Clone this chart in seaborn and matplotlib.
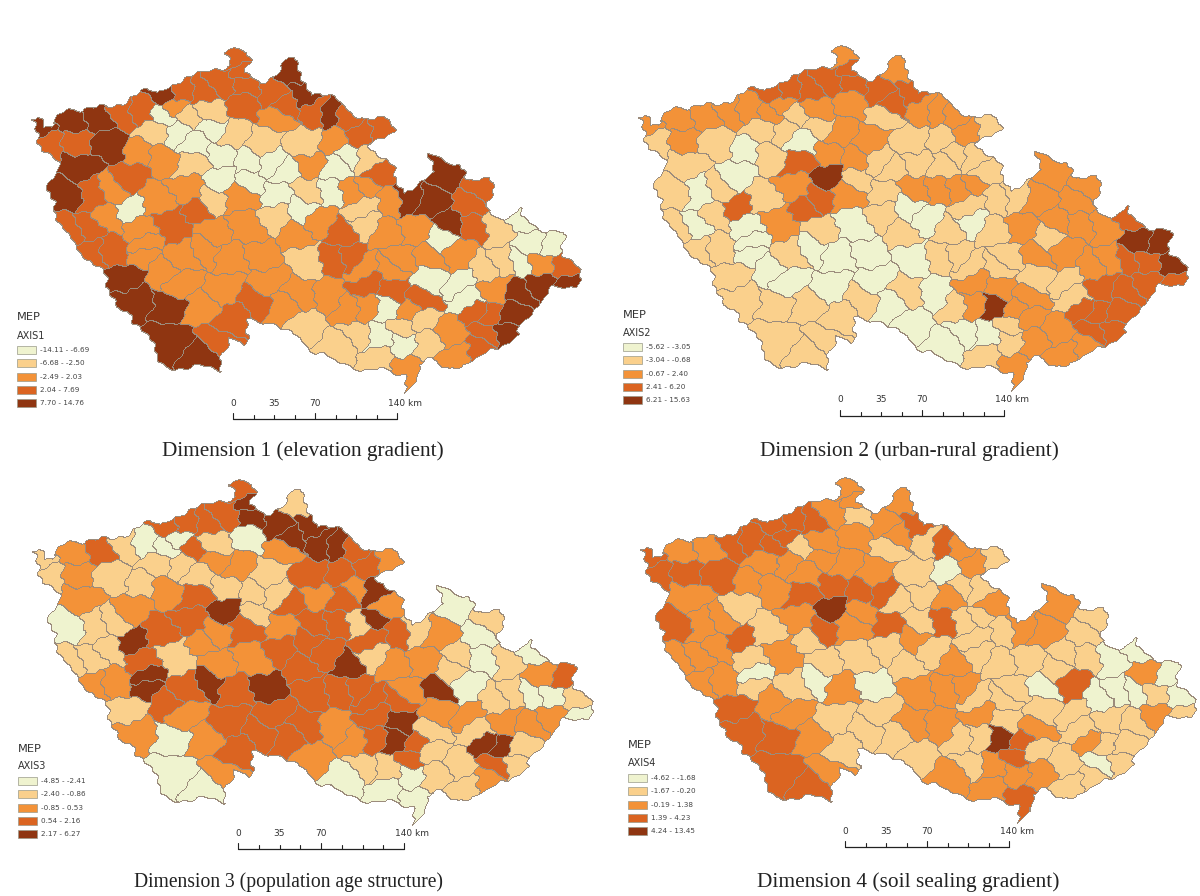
import numpy as np
import seaborn as sns
import matplotlib
matplotlib.use("Agg")
import matplotlib.pyplot as plt
from matplotlib.colors import ListedColormap
from matplotlib.patches import Rectangle
from matplotlib.path import Path

# border of the country
outline_x = [85,105,110,125,150,175,240,290,320,340,375,400,430,500,570,600,580,595,635,650,640,680,730,735,760,785,800,825,870,900,945,980,1005,1022,1000,960,985,1020,1050,1075,1110,1125,1108,1150,1190,1225,1280,1290,1255,1275,1330,1350,1370,1410,1460,1465,1500,1510,1480,1440,1400,1340,1310,1270,1250,1220,1165,1130,1095,1060,1045,1000,950,880,800,755,700,650,635,590,570,540,480,420,370,330,300,280,240,200,160,145,120,150,145,110,100,85]
outline_y = [258,255,290,295,265,240,230,235,220,195,180,190,165,140,110,110,65,52,70,95,130,155,130,90,90,130,190,185,215,225,265,270,265,295,325,345,385,410,480,480,450,430,370,385,410,460,435,470,510,545,570,540,570,600,610,680,710,765,780,770,810,925,945,950,985,1010,1010,985,1010,1080,1030,1020,1020,995,950,910,870,870,950,925,1020,1005,1020,1000,900,840,830,760,700,640,600,550,480,430,400,350,320,290]

# district centres
seed_x = [100,130,195,180,260,285,200,175,240,290,335,340,375,415,310,365,400,425,455,460,420,510,490,545,540,475,520,575,610,635,640,640,700,757,790,745,860,820,900,930,990,880,790,720,680,610,580,
          578,495,490,545,620,640,700,650,740,720,870,805,860,800,910,945,985,910,960,1010,945,1060,
          1160,1120,1180,1215,1255,1225,1295,1350,1380,1440,1400,1470,1485,1405,1350,1310,1265,1350,1330,1310,1270,1240,1210,1290,1170,1245,1190,1265,
          1110,1050,990,1040,880,985,1100,1090,1120,1195,1140,1080,1190,1120,1040,1000,960,1010,1020,1000,965,955,1060,1050,
          880,915,865,945,800,680,770,830,720,780,640,550,450,520,400,230,180,280,360,370,300,370,230,
          330,350,420,480,530,600,590,470,660,600,560,520,440,450,530,780,800,690,740,850,900,930]
seed_y = [285,345,335,270,265,340,405,490,495,490,535,440,240,195,245,365,310,250,225,300,385,340,265,240,295,185,190,150,85,125,220,170,185,125,195,230,250,240,260,310,295,340,340,260,330,320,370,
          442,405,470,510,500,400,400,450,430,490,420,400,480,480,370,380,440,480,470,510,530,500,
          420,520,570,530,480,590,590,570,640,640,695,715,760,760,700,700,720,790,850,905,855,850,800,770,905,955,980,905,
          935,1015,985,940,950,925,875,810,750,770,630,600,670,680,680,610,580,720,775,835,760,830,840,885,
          620,680,680,710,680,680,620,580,560,535,590,600,580,545,510,590,600,560,600,640,660,680,670,
          740,810,725,680,660,690,770,760,810,870,925,840,830,920,975,800,870,750,830,810,840,910]
axis1 = [4,3,3,4,4,4,4,4,3,2,0,3,3,4,3,2,1,0,2,0,2,0,1,1,0,3,3,3,3,3,3,3,3,4,4,3,4,3,3,3,3,2,1,2,1,1,0,
         0,1,2,1,2,0,0,0,0,0,0,2,0,1,0,1,3,2,2,2,1,4,
         4,4,4,3,3,3,1,0,0,0,2,3,4,4,0,1,1,4,4,4,3,3,0,2,2,3,2,3,
         1,2,1,0,1,0,1,3,0,0,0,2,2,2,2,2,1,2,3,0,3,2,2,1,
         3,3,3,2,1,2,2,2,1,0,2,2,3,3,2,3,3,2,2,2,3,2,3,
         4,4,2,2,2,2,2,2,3,3,3,2,4,4,4,2,1,2,2,2,2,1]
axis2 = [2,1,2,2,2,1,1,1,0,1,3,0,2,3,2,0,1,2,2,1,1,0,1,2,1,3,3,3,2,3,2,3,3,2,3,3,2,2,2,2,1,1,1,1,2,2,2,
         4,3,2,3,2,2,1,1,1,1,1,1,2,2,1,1,1,2,2,1,1,1,
         2,2,2,2,2,2,2,3,4,4,3,4,3,3,3,2,2,3,3,3,3,3,1,3,2,2,2,3,
         2,2,1,1,0,0,2,2,1,1,1,2,2,2,1,1,0,1,2,4,2,2,2,1,
         1,1,1,1,0,0,1,0,1,0,0,1,2,3,1,0,1,1,0,0,1,0,1,
         1,1,0,1,0,0,0,0,1,1,1,1,1,1,1,1,0,0,0,0,1,0]
axis3 = [1,1,2,2,3,1,2,0,1,1,4,2,0,3,1,1,1,0,0,1,2,1,3,1,2,3,3,3,3,4,0,4,4,1,4,4,4,4,3,3,2,3,3,2,1,2,1,
         4,3,3,2,3,1,1,1,3,2,3,2,3,3,2,4,2,1,4,3,3,1,
         0,2,1,0,1,0,1,0,2,3,0,1,0,2,0,1,1,2,1,1,4,4,1,2,1,2,1,3,
         1,0,0,0,0,1,1,1,2,2,1,2,0,4,2,2,1,3,4,4,3,3,3,3,
         4,3,3,3,3,4,3,3,3,3,2,2,1,2,3,1,1,1,3,4,2,4,2,
         1,2,3,3,4,3,3,2,3,3,2,2,0,0,0,3,2,3,3,2,2,1]
axis4 = [3,3,3,2,2,3,2,3,2,2,3,1,3,3,3,2,2,3,3,2,2,2,1,2,2,3,3,2,2,2,2,1,2,2,3,2,3,1,2,2,1,0,1,1,2,2,3,
         4,3,2,3,2,3,3,2,1,3,2,1,3,1,1,1,2,1,1,1,1,2,
         2,2,1,1,1,1,0,0,2,0,1,0,1,2,0,0,0,1,1,1,1,2,1,1,1,1,1,0,
         2,3,2,2,2,2,1,2,1,1,1,1,3,0,1,1,1,1,1,4,2,1,3,3,
         2,2,2,1,2,0,1,1,1,2,1,1,2,1,1,2,2,2,1,0,2,1,2,
         3,3,2,1,0,2,1,2,1,1,2,2,3,3,3,2,1,1,1,2,1,1]

class_colors = ["#EFF3CF", "#FAD08C", "#F39238", "#DB6421", "#8F3511"]
legend1 = ["-14.11 - -6.69", "-6.68 - -2.50", "-2.49 - 2.03", "2.04 - 7.69", "7.70 - 14.76"]
legend2 = ["-5.62 - -3.05", "-3.04 - -0.68", "-0.67 - 2.40", "2.41 - 6.20", "6.21 - 15.63"]
legend3 = ["-4.85 - -2.41", "-2.40 - -0.86", "-0.85 - 0.53", "0.54 - 2.16", "2.17 - 6.27"]
legend4 = ["-4.62 - -1.68", "-1.67 - -0.20", "-0.19 - 1.38", "1.39 - 4.23", "4.24 - 13.45"]
axis_names = ["AXIS1", "AXIS2", "AXIS3", "AXIS4"]
captions = ["Dimension 1 (elevation gradient)", "Dimension 2 (urban-rural gradient)",
            "Dimension 3 (population age structure)", "Dimension 4 (soil sealing gradient)"]
scale_labels = ["0", "35", "70", "140 km"]
scale_stops = [0, 35, 70, 140]

sns.set_theme(style="white")
fig = plt.figure(figsize=(12, 8.96), dpi=100, facecolor="white")

# raster of the districts: nearest centre, with wavy edges
step_x = 2.6
step_y = 3
gx, gy = np.meshgrid(np.arange(0, 600) * step_x + step_x / 2, np.arange(0, 370) * step_y + step_y / 2)
wx = gx + 7 * np.sin(gy / 17) + 4 * np.sin(gy / 6 + gx / 11)
wy = gy + 7 * np.sin(gx / 19) + 4 * np.sin(gx / 7 - gy / 13)
sx = np.array(seed_x, dtype=float)
sy = np.array(seed_y, dtype=float)
dist = (wx[..., None] - sx) ** 2 + (wy[..., None] - sy) ** 2
region = dist.argmin(axis=2)
poly = Path(np.column_stack([outline_x, outline_y]))
inside = poly.contains_points(np.column_stack([wx.ravel(), wy.ravel()])).reshape(gx.shape)

edge = np.zeros(region.shape, dtype=bool)
edge[:, 1:] |= region[:, 1:] != region[:, :-1]
edge[1:, :] |= region[1:, :] != region[:-1, :]
out = np.zeros(region.shape, dtype=bool)
out[:, 1:] |= inside[:, 1:] != inside[:, :-1]
out[1:, :] |= inside[1:, :] != inside[:-1, :]
lines = (edge & inside) | out


def draw_map(values, left, top, scale_x, scale_y):
    w = 600 * scale_x
    h = 370 * scale_y
    ax = fig.add_axes([left / 1200, 1 - (top + h) / 896, w / 1200, h / 896])
    ax.patch.set_alpha(0)
    classes = np.array(values)[region]
    sns.heatmap(classes, mask=~inside, cmap=ListedColormap(class_colors), vmin=-0.5, vmax=4.5,
                cbar=False, xticklabels=False, yticklabels=False, ax=ax)
    sns.heatmap(lines.astype(float), mask=~lines, cmap=ListedColormap(["#9C8C7C"]),
                cbar=False, xticklabels=False, yticklabels=False, ax=ax)
    ax.set_xlabel("")
    ax.set_ylabel("")


draw_map(axis1, 0, 30, 1, 1)
draw_map(axis2, 606.5, 27.7, 1, 1)
draw_map(axis3, 0, 461.7, 1.02, 1)
draw_map(axis4, 608.5, 460, 1.012, 1)

# legends, scale bars and captions in pixel coordinates
over = fig.add_axes([0, 0, 1, 1])
over.set_xlim(0, 1200)
over.set_ylim(896, 0)
over.axis("off")
over.patch.set_alpha(0)


def draw_legend(labels, name, x, y_mep, y_axis, y_first):
    over.text(x, y_mep, "MEP", fontsize=8.2, color="#333333", va="center", family="DejaVu Sans")
    over.text(x, y_axis, name, fontsize=7, color="#333333", va="center", family="DejaVu Sans")
    for i, lab in enumerate(labels):
        yc = y_first + i * 13.3
        over.add_patch(Rectangle((x, yc - 4), 18.5, 8, facecolor=class_colors[i], edgecolor="#9a9a8a", lw=0.5))
        over.text(x + 23, yc, lab, fontsize=5.2, color="#444444", va="center", family="DejaVu Sans")


def draw_scale(x0, x1, y, y_text):
    per_km = (x1 - x0) / scale_stops[-1]
    over.plot([x0, x1], [y, y], color="#222222", lw=0.9)
    for k in range(9):
        xk = x0 + k * (x1 - x0) / 8
        tall = 6 if k in (0, 4, 8) else 3.5
        over.plot([xk, xk], [y, y - tall], color="#222222", lw=0.8)
    for stop, lab in zip(scale_stops, scale_labels):
        xs = x0 + stop * per_km
        if lab.endswith("km"):
            over.text(xs - 9, y_text, lab, fontsize=6.5, color="#333333", va="center", ha="left", family="DejaVu Sans")
        else:
            over.text(xs, y_text, lab, fontsize=6.5, color="#333333", va="center", ha="center", family="DejaVu Sans")


draw_legend(legend1, axis_names[0], 17, 317, 336, 350)
draw_legend(legend2, axis_names[1], 623, 315, 333, 347)
draw_legend(legend3, axis_names[2], 18, 749, 766, 781)
draw_legend(legend4, axis_names[3], 628, 745, 763, 778)

draw_scale(233, 397, 419, 403)
draw_scale(840, 1004, 416, 399)
draw_scale(238, 404, 849, 833)
draw_scale(845, 1009, 847, 831)

cap_x = [303, 909, 288.5, 908]
cap_y = [451, 451, 882, 882]
cap_size = [15.3, 15.3, 14.1, 15.4]
for cx, cy, size, cap in zip(cap_x, cap_y, cap_size, captions):
    over.text(cx, cy, cap, fontsize=size, color="#222222", ha="center", va="center", family="Liberation Serif")

fig.savefig("out.png", dpi=100, facecolor="white")
